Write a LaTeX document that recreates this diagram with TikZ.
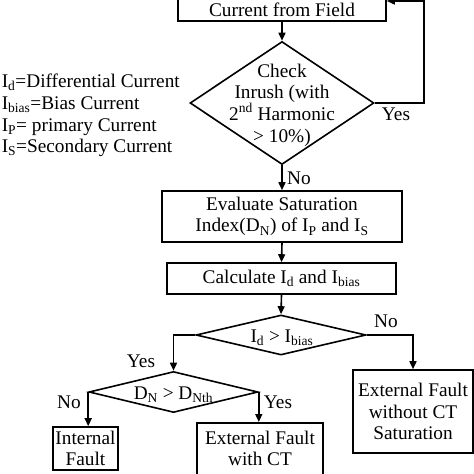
\documentclass[tikz,border=0pt]{standalone}
\usepackage{fontspec}
\setmainfont{Liberation Serif}
\usetikzlibrary{shapes.geometric,arrows.meta}

\begin{document}
\begin{tikzpicture}[x=1pt,y=-1pt,line width=1.6pt,
  every node/.style={font=\fontsize{19.3}{21.6}\selectfont},
  box/.style={draw,rectangle,align=center,inner sep=0pt},
  dec/.style={draw,diamond,inner sep=0pt},
  arr/.style={-{Triangle[length=8pt,width=7pt]}}]
\useasboundingbox (0,0) rectangle (474,474);
% legend
\node[align=left,anchor=west,inner sep=0pt] (legend) at (1,115.5) {I\textsubscript{d}=Differential Current\\I\textsubscript{bias}=Bias Current\\I\textsubscript{P}= primary Current\\I\textsubscript{S}=Secondary Current};
% blocks
\node[box,minimum width=208,text height=40,text depth=5,anchor=south] (field) at (282,22) {Current from Field};
\node[dec,minimum width=184,minimum height=123] (chk) at (282,103) {};
\node[align=center] (chktxt) at (282,105) {Check\\Inrush (with\\2\textsuperscript{nd} Harmonic\\> 10\%)};
\node[box,minimum width=240,minimum height=51] (eval) at (282,216.5) {Evaluate Saturation\\Index(D\textsubscript{N}) of I\textsubscript{P} and I\textsubscript{S}};
\node[box,minimum width=229,minimum height=31] (calc) at (281.5,278.5) {Calculate I\textsubscript{d} and I\textsubscript{bias}};
\node[dec,minimum width=170,minimum height=40] (cmp) at (281,335) {};
\node (cmptxt) at (282,338) {I\textsubscript{d} > I\textsubscript{bias}};
\node[dec,minimum width=169,minimum height=41] (sat) at (173.5,392) {};
\node (sattxt) at (173.5,395) {D\textsubscript{N} > D\textsubscript{Nth}};
\node[box,minimum width=65,minimum height=43] (intf) at (85.5,448.5) {Internal\\Fault};
\node[box,minimum width=126,inner ysep=8,text depth=30,anchor=north] (extct) at (260,422) {External Fault\\with CT};
\node[box,minimum width=120,minimum height=83] (extno) at (413,411.5) {External Fault\\without CT\\Saturation};
% connectors
\coordinate (back) at (424,1);
\draw[arr] (field.south) -- (chk.north);
\draw[arr] (chk.east) -| (back) -- (field.east |- back);
\draw[arr] (chk.south) -- (eval.north);
\draw[arr] (eval.south) -- (calc.north);
\draw[arr] (calc.south) -- (cmp.north);
\draw[arr] (cmp.west) -| (sat.north);
\draw[arr] (cmp.east) -| (extno.north);
\draw[arr] (sat.west) -- (sat.west |- intf.north);
\draw[arr] (sat.east) -- (sat.east |- extct.north);
% labels
\node (yes1) at (396,114) {Yes};
\node (no1) at (299,178) {No};
\node (no2) at (386,321) {No};
\node (yes2) at (141,361) {Yes};
\node (no3) at (69,402) {No};
\node (yes3) at (278,402) {Yes};
\end{tikzpicture}
\end{document}
